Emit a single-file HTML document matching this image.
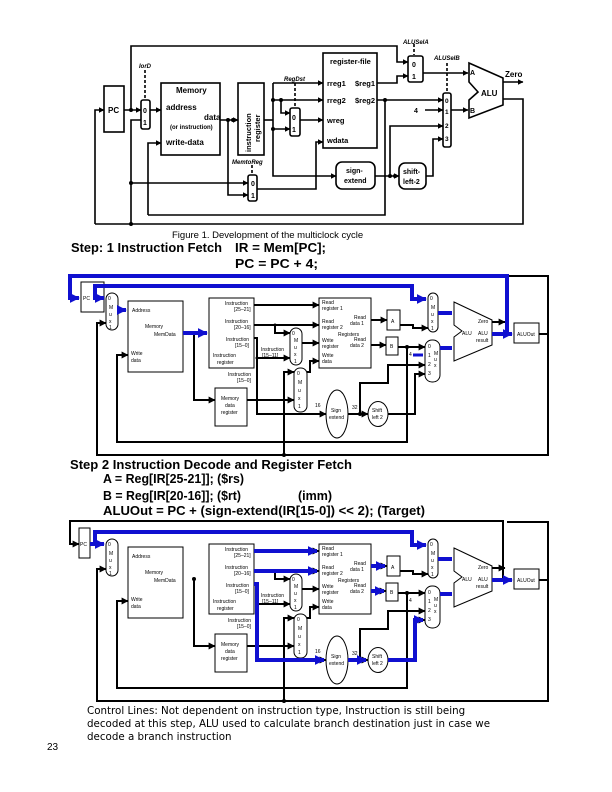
<!DOCTYPE html>
<html><head><meta charset="utf-8">
<style>
html,body{margin:0;padding:0;background:#fff;}
svg{display:block;}
.t{font-family:"Liberation Sans",sans-serif;}
</style></head>
<body>
<svg width="612" height="792" viewBox="0 0 612 792" xmlns="http://www.w3.org/2000/svg" class="t">
<defs>
<marker id="a" viewBox="0 0 6 6" refX="5.5" refY="3" markerWidth="3.5" markerHeight="3.5" orient="auto"><path d="M0,0L6,3L0,6z" fill="#000"/></marker>
<marker id="b" viewBox="0 0 6 6" refX="5.5" refY="3" markerWidth="2.5" markerHeight="2.5" orient="auto"><path d="M0,0L6,3L0,6z" fill="#1010d0"/></marker>
</defs>

<!-- ============ DIAGRAM 1 ============ -->
<g fill="none" stroke="#000" stroke-width="1.6">
<rect x="104" y="86" width="20" height="46"/>
<rect x="141" y="100" width="9" height="29" rx="2"/>
<rect x="161" y="83" width="59" height="72"/>
<rect x="238" y="83" width="26" height="72"/>
<rect x="290" y="108" width="10" height="28" rx="2"/>
<rect x="323" y="53" width="54" height="95"/>
<rect x="408" y="56" width="15" height="26" rx="2"/>
<rect x="443" y="93" width="8" height="54" rx="2"/>
<rect x="248" y="175" width="9" height="26" rx="2"/>
<rect x="336" y="162" width="39" height="27" rx="6"/>
<rect x="399" y="163" width="27" height="26" rx="6"/>
<polygon points="469,63 503,78 503,105 469,118 469,100 478,92 469,82"/>
<polyline points="131,110 131,46 397,46 397,62 408,62" marker-end="url(#a)"/>
<line x1="124" y1="110" x2="141" y2="110" marker-end="url(#a)"/>
<polyline points="141,120 131,120 131,224"/>
<polyline points="95,224 95,110 104,110" marker-end="url(#a)"/>
<line x1="150" y1="110" x2="161" y2="110" marker-end="url(#a)"/>
<line x1="220" y1="120" x2="238" y2="120" marker-end="url(#a)"/>
<polyline points="228,120 228,195 248,195" marker-end="url(#a)"/>
<polyline points="148,215 148,143 161,143" marker-end="url(#a)"/>
<line x1="131" y1="183" x2="248" y2="183" marker-end="url(#a)"/>
<polyline points="264,120 273,120"/>
<polyline points="273,83 273,176 336,176" marker-end="url(#a)"/>
<line x1="273" y1="83" x2="323" y2="83" marker-end="url(#a)"/>
<line x1="273" y1="100" x2="323" y2="100" marker-end="url(#a)"/>
<polyline points="281,100 281,113 290,113" marker-end="url(#a)"/>
<line x1="273" y1="129" x2="290" y2="129" marker-end="url(#a)"/>
<line x1="300" y1="120" x2="323" y2="120" marker-end="url(#a)"/>
<polyline points="257,189 316,189 316,142 323,142" marker-end="url(#a)"/>
<polyline points="377,83 397,83 397,76 408,76" marker-end="url(#a)"/>
<line x1="423" y1="73" x2="468" y2="73" marker-end="url(#a)"/>
<line x1="377" y1="100" x2="443" y2="100" marker-end="url(#a)"/>
<polyline points="385,100 385,215 148,215"/>
<line x1="425" y1="110" x2="443" y2="110" marker-end="url(#a)"/>
<polyline points="390,176 390,126 443,126" marker-end="url(#a)"/>
<line x1="375" y1="176" x2="399" y2="176" marker-end="url(#a)"/>
<polyline points="426,176 433,176 433,139 443,139" marker-end="url(#a)"/>
<line x1="451" y1="110" x2="468" y2="110" marker-end="url(#a)"/>
<line x1="503" y1="82" x2="523" y2="82" marker-end="url(#a)"/>
<polyline points="503,99 523,99 523,224 95,224"/>
<g stroke-dasharray="3,2"><line x1="145" y1="70" x2="145" y2="99"/><line x1="295" y1="83" x2="295" y2="107"/><line x1="414" y1="44" x2="414" y2="55"/><line x1="447" y1="63" x2="447" y2="92"/><line x1="252" y1="165" x2="252" y2="174"/></g>
</g>
<g fill="#000"><circle cx="131" cy="110" r="2"/><circle cx="131" cy="183" r="2"/><circle cx="131" cy="224" r="2"/><circle cx="228" cy="120" r="2"/><circle cx="233" cy="120" r="2"/><circle cx="273" cy="100" r="2"/><circle cx="281" cy="100" r="2"/><circle cx="273" cy="129" r="2"/><circle cx="385" cy="100" r="2"/><circle cx="390" cy="176" r="2"/><circle cx="395" cy="176" r="2"/></g>
<g font-size="8" font-weight="bold" fill="#000">
<text x="108" y="113">PC</text>
<text x="143" y="113" font-size="7">0</text><text x="143" y="125" font-size="7">1</text>
<text x="176" y="93">Memory</text>
<text x="166" y="110">address</text>
<text x="204" y="120">data</text>
<text x="170" y="129" font-size="6">(or instruction)</text>
<text x="166" y="145">write-data</text>
<text x="0" y="0" transform="translate(251,152) rotate(-90)" font-size="7.5">instruction</text>
<text x="0" y="0" transform="translate(260,142) rotate(-90)" font-size="7.5">register</text>
<text x="292" y="120" font-size="7">0</text><text x="292" y="132" font-size="7">1</text>
<text x="330" y="64" font-size="7.5">register-file</text>
<text x="327" y="86" font-size="7.5">rreg1</text><text x="355" y="86" font-size="7.5">$reg1</text>
<text x="327" y="103" font-size="7.5">rreg2</text><text x="355" y="103" font-size="7.5">$reg2</text>
<text x="327" y="123" font-size="7.5">wreg</text>
<text x="327" y="143" font-size="7.5">wdata</text>
<text x="412" y="67" font-size="7">0</text><text x="412" y="79" font-size="7">1</text>
<text x="445" y="103" font-size="6.5">0</text><text x="445" y="114" font-size="6.5">1</text><text x="445" y="128" font-size="6.5">2</text><text x="445" y="141" font-size="6.5">3</text>
<text x="414" y="113" font-size="7">4</text>
<text x="470" y="75" font-size="7">A</text><text x="470" y="113" font-size="7">B</text>
<text x="481" y="96" font-size="8">ALU</text>
<text x="505" y="77" font-size="8">Zero</text>
<text x="251" y="186" font-size="7">0</text><text x="251" y="198" font-size="7">1</text>
<text x="346" y="173" font-size="7">sign-</text><text x="344" y="183" font-size="7">extend</text>
<text x="403" y="174" font-size="7">shift-</text><text x="403" y="184" font-size="7">left-2</text>
<g font-style="italic" font-size="6"><text x="139" y="68">IorD</text><text x="284" y="81">RegDst</text><text x="232" y="164">MemtoReg</text><text x="403" y="44">ALUSelA</text><text x="434" y="60">ALUSelB</text></g>
</g>
<text x="172" y="238" font-size="9.5">Figure 1. Development of the multiclock cycle</text>
<g font-weight="bold" font-size="12.5"><text x="71" y="252" textLength="151" lengthAdjust="spacingAndGlyphs">Step: 1 Instruction Fetch</text><text x="235" y="252" textLength="91" lengthAdjust="spacingAndGlyphs">IR = Mem[PC];</text><text x="235" y="268" textLength="83" lengthAdjust="spacingAndGlyphs">PC = PC + 4;</text></g>

<!-- ============ BASE DATAPATH (diagram 2 coords) ============ -->
<g id="dp">
<g fill="none" stroke="#000" stroke-width="2">
<rect x="128" y="301" width="55" height="71" stroke-width="1"/>
<rect x="209" y="298" width="45" height="70" stroke-width="1"/>
<rect x="319" y="298" width="52" height="70" stroke-width="1"/>
<rect x="387" y="310" width="13" height="20" stroke-width="1"/>
<rect x="386" y="337" width="12" height="18" stroke-width="1"/>
<rect x="514" y="323" width="25" height="20" stroke-width="1"/>
<rect x="215" y="388" width="32" height="38" stroke-width="1"/>
<ellipse cx="337" cy="414" rx="11" ry="24" stroke-width="1"/>
<ellipse cx="378" cy="414" rx="10" ry="12.5" stroke-width="1"/>
<rect x="106" y="293" width="12" height="37" rx="6" stroke-width="1"/>
<rect x="290" y="328" width="12" height="37" rx="6" stroke-width="1"/>
<rect x="294" y="368" width="13" height="44" rx="6" stroke-width="1"/>
<rect x="428" y="293" width="10" height="39" rx="5" stroke-width="1"/>
<rect x="425" y="340" width="15" height="42" rx="7" stroke-width="1"/>
<polygon points="454,302 492,320 492,345 454,361 454,337 462,331 454,325" stroke-width="1"/>
<polyline points="507,276 548,276 548,455 97,455 97,323 106,323" marker-end="url(#a)"/>
<polyline points="194,333 194,400 215,400" marker-end="url(#a)"/>
<line x1="254" y1="305" x2="319" y2="305" marker-end="url(#a)"/>
<line x1="254" y1="325" x2="319" y2="325" marker-end="url(#a)"/>
<polyline points="275,325 275,333 290,333" marker-end="url(#a)"/>
<polyline points="254,338 257,338 257,414 326,414" marker-end="url(#a)"/>
<line x1="257" y1="358" x2="290" y2="358" marker-end="url(#a)"/>
<line x1="302" y1="343" x2="319" y2="343" marker-end="url(#a)"/>
<polyline points="307,372 310,372 310,361 319,361" marker-end="url(#a)"/>
<line x1="247" y1="400" x2="294" y2="400" marker-end="url(#a)"/>
<polyline points="284,455 284,372 294,372" marker-end="url(#a)"/>
<line x1="371" y1="320" x2="387" y2="320" marker-end="url(#a)"/>
<polyline points="400,325 413,325 413,328 428,328" marker-end="url(#a)"/>
<line x1="371" y1="345" x2="386" y2="345" marker-end="url(#a)"/>
<line x1="398" y1="347" x2="425" y2="347" marker-end="url(#a)"/>
<polyline points="407,347 407,442 117,442 117,355 128,355" marker-end="url(#a)"/>
<line x1="348" y1="414" x2="368" y2="414" marker-end="url(#a)"/>
<polyline points="360,414 360,383 388,383 388,365 425,365" marker-end="url(#a)"/>
<polyline points="388,414 415,414 415,374 425,374" marker-end="url(#a)"/>
<line x1="492" y1="322" x2="505" y2="322" marker-end="url(#a)"/>
<line x1="539" y1="334" x2="548" y2="334"/>
</g>
<g fill="#000"><circle cx="284" cy="455" r="2"/><circle cx="194" cy="333" r="2"/><circle cx="407" cy="347" r="2"/><circle cx="360" cy="414" r="2"/><circle cx="275" cy="325" r="1.5"/><circle cx="257" cy="358" r="1.5"/></g>
<g font-size="5" fill="#000">
<text x="108" y="300">0</text><text x="109" y="309">M</text><text x="109" y="316">u</text><text x="109" y="323">x</text><text x="109" y="329">1</text>
<text x="132" y="312">Address</text><text x="145" y="328">Memory</text><text x="154" y="336">MemData</text>
<text x="131" y="355">Write</text><text x="131" y="362">data</text>
<text x="225" y="305">Instruction</text><text x="234" y="311">[25–21]</text>
<text x="225" y="323">Instruction</text><text x="234" y="329">[20–16]</text>
<text x="226" y="341">Instruction</text><text x="235" y="347">[15–0]</text>
<text x="213" y="357">Instruction</text><text x="217" y="364">register</text>
<text x="228" y="376">Instruction</text><text x="237" y="382">[15–0]</text>
<text x="261" y="351">Instruction</text><text x="262" y="357">[15–11]</text>
<text x="292" y="335">0</text><text x="294" y="342">M</text><text x="294" y="349">u</text><text x="294" y="356">x</text><text x="294" y="363">1</text>
<text x="297" y="375">0</text><text x="298" y="384">M</text><text x="298" y="392">u</text><text x="298" y="400">x</text><text x="298" y="408">1</text>
<text x="322" y="304">Read</text><text x="322" y="310">register 1</text>
<text x="322" y="323">Read</text><text x="322" y="329">register 2</text>
<text x="338" y="336">Registers</text>
<text x="322" y="342">Write</text><text x="322" y="348">register</text>
<text x="322" y="357">Write</text><text x="322" y="363">data</text>
<text x="354" y="319">Read</text><text x="350" y="325">data 1</text>
<text x="354" y="341">Read</text><text x="350" y="347">data 2</text>
<text x="391" y="323">A</text><text x="390" y="348">B</text>
<text x="221" y="400">Memory</text><text x="225" y="407">data</text><text x="221" y="414">register</text>
<text x="331" y="412">Sign</text><text x="329" y="419">extend</text>
<text x="372" y="412">Shift</text><text x="372" y="419">left 2</text>
<text x="315" y="407">16</text><text x="352" y="409">32</text>
<text x="430" y="300">0</text><text x="431" y="309">M</text><text x="431" y="316">u</text><text x="431" y="323">x</text><text x="431" y="330">1</text>
<text x="428" y="348">0</text><text x="428" y="357">1</text><text x="428" y="366">2</text><text x="428" y="375">3</text>
<text x="434" y="355">M</text><text x="434" y="361">u</text><text x="434" y="367">x</text>
<text x="409" y="356">4</text>
<text x="462" y="335">ALU</text>
<text x="478" y="323">Zero</text><text x="478" y="335">ALU</text><text x="476" y="342">result</text>
<text x="517" y="336">ALUOut</text>
</g>
</g>
<g fill="none" stroke="#1010d0" stroke-width="4">
<polyline points="507,334 507,276 70,276 70,298 79,298" marker-end="url(#b)"/>
<rect x="81" y="282" width="23" height="30" stroke="#000" stroke-width="1"/>
<line x1="93" y1="298" x2="104" y2="298" marker-end="url(#b)"/>
<polyline points="95,298 95,286 412,286 412,299 426,299" marker-end="url(#b)"/>
<line x1="118" y1="310" x2="126" y2="310" marker-end="url(#b)"/>
<line x1="183" y1="333" x2="207" y2="333" marker-end="url(#b)"/>
<line x1="438" y1="313" x2="452" y2="313"/>
<line x1="440" y1="348" x2="452" y2="348"/>
<line x1="413" y1="355" x2="423" y2="355" stroke-width="3"/>
<line x1="492" y1="334" x2="512" y2="334" marker-end="url(#b)"/>
</g>
<text x="83" y="300" font-size="5">PC</text>

<!-- ============ DIAGRAM 3 ============ -->
<use href="#dp" transform="translate(0,246)"/>
<g fill="none" stroke="#000" stroke-width="2">
<polyline points="503,580 503,521 70,521 70,544 79,544" marker-end="url(#a)"/>
<rect x="79" y="528" width="11" height="30" stroke-width="1"/>
</g>
<g fill="none" stroke="#1010d0" stroke-width="4">
<line x1="90" y1="544" x2="104" y2="544" marker-end="url(#b)"/>
<polyline points="95,544 95,532 412,532 412,545 426,545" marker-end="url(#b)"/>
<line x1="254" y1="551" x2="317" y2="551" marker-end="url(#b)"/>
<line x1="254" y1="571" x2="317" y2="571" marker-end="url(#b)"/>
<polyline points="254,584 257,584 257,660 324,660" marker-end="url(#b)"/>
<line x1="371" y1="566" x2="385" y2="566" marker-end="url(#b)"/>
<line x1="371" y1="591" x2="384" y2="591" marker-end="url(#b)"/>
<line x1="438" y1="559" x2="452" y2="559"/>
<line x1="440" y1="594" x2="452" y2="594"/>
<line x1="348" y1="660" x2="366" y2="660" marker-end="url(#b)"/>
<polyline points="388,660 415,660 415,620 423,620" marker-end="url(#b)"/>
<line x1="492" y1="580" x2="512" y2="580" marker-end="url(#b)"/>
</g>
<text x="80" y="546" font-size="5">PC</text>

<g font-weight="bold" font-size="12.5">
<text x="70" y="469" textLength="282" lengthAdjust="spacingAndGlyphs">Step 2 Instruction Decode and Register Fetch</text>
<text x="103" y="483" textLength="141" lengthAdjust="spacingAndGlyphs">A = Reg[IR[25-21]];  ($rs)</text>
<text x="103" y="500" textLength="138" lengthAdjust="spacingAndGlyphs">B = Reg[IR[20-16]];  ($rt)</text><text x="298" y="500">(imm)</text>
<text x="103" y="515" textLength="322" lengthAdjust="spacingAndGlyphs">ALUOut = PC + (sign-extend(IR[15-0]) &lt;&lt; 2); (Target)</text>
</g>
<g font-family="'DejaVu Sans',sans-serif" font-size="10.3">
<text x="87" y="714">Control Lines: Not dependent on instruction type, Instruction is still being</text>
<text x="87" y="727">decoded at this step, ALU used to calculate branch destination just in case we</text>
<text x="87" y="740">decode a branch instruction</text>
</g>
<text x="47" y="750" font-size="10">23</text>
</svg>
</body></html>
